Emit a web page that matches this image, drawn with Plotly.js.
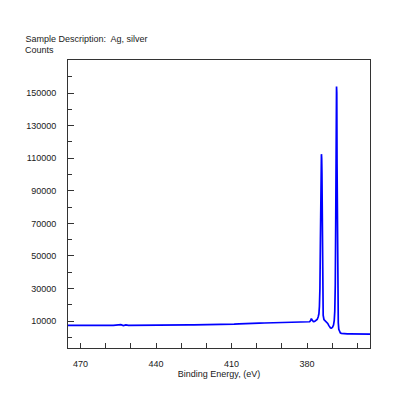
<!DOCTYPE html>
<html>
<head>
<meta charset="utf-8">
<script src="https://cdn.plot.ly/plotly-3.0.1.min.js"></script>
<style>html,body{margin:0;padding:0;background:#fff;}#chart{width:410px;height:400px;}</style>
</head>
<body>
<div id="chart"></div>
<script>
// Binding energy (eV)
const bindingEnergy = [475,473,471,469,467,465,463,461,459,457,455,454,453,452,451,449,447,445,443,441,439,437,435,433,431,429,427,425,423,421,419,417,415,414,413,412,411,409,407,405,403,401,399,397,395,393,391,389,387,385,383,381,380,379,378.6,378.3,378.0,377.5,377.0,376.5,376.0,375.6,375.3,375.1,374.9,374.7,374.5,374.4,374.3,374.2,374.1,374.0,373.9,373.8,373.6,373.3,373.0,372.6,372.2,371.8,371.4,371.0,370.7,370.3,369.9,369.5,369.2,369.0,368.8,368.6,368.5,368.4,368.3,368.2,368.1,368.0,367.9,367.8,367.6,367.4,367.1,366.8,366.4,366.0,365.5,365,364,363,362,361,360,359,358,357,356,355];
// Counts
const counts = [7400,7350,7400,7380,7420,7400,7450,7420,7400,7450,7500,7800,7300,7650,7450,7500,7480,7520,7500,7550,7560,7580,7600,7620,7600,7650,7680,7700,7720,7750,7780,7800,7850,8100,7900,8150,8000,8200,8350,8550,8650,8700,8800,8850,8900,8950,8980,9000,9050,9100,9200,9350,9300,9600,10400,11500,10600,9700,9800,10200,11000,12500,14500,19000,30000,60000,90000,101000,112500,110000,101000,80000,45000,22000,13500,11000,10500,10000,9600,8600,7400,6300,5800,5700,6200,7600,10500,16000,32000,75000,107000,145000,154000,150000,107000,60000,35000,20000,9000,5000,3300,2800,2500,2400,2300,2250,2200,2200,2150,2150,2100,2100,2050,2050,2000,2000];

const xTickVals = [470,440,410,380];
const xMinorVals = [460,450,430,420,400,390,370,360];
const yTickVals = [10000,30000,50000,70000,90000,110000,130000,150000];
const yMinorVals = [0,20000,40000,60000,80000,100000,120000,140000,160000];

const titleText = "Sample Description:\u00a0 Ag, silver";
const yLabel = "Counts";
const xLabel = "Binding Energy, (eV)";

const font = {family: "Liberation Sans, Arial, sans-serif", size: 9, color: "#1a1a1a"};

const trace = {
  x: bindingEnergy, y: counts, type: "scatter", mode: "lines",
  line: {color: "#0000ff", width: 1.7}, hoverinfo: "skip"
};

const layout = {
  width: 410, height: 400,
  margin: {l: 67.5, r: 40, t: 59.5, b: 52},
  paper_bgcolor: "#ffffff", plot_bgcolor: "#ffffff",
  font: font,
  showlegend: false,
  title: {text: titleText, font: font, x: 25.5/410, xanchor: "left", xref: "container",
          y: 1 - 39/400, yanchor: "middle", yref: "container"},
  xaxis: {
    range: [475, 355], autorange: false,
    tickmode: "array", tickvals: xTickVals, ticktext: xTickVals.map(String),
    ticks: "inside", ticklen: 5, tickwidth: 1, tickcolor: "#333",
    minor: {tickmode: "array", tickvals: xMinorVals, ticks: "inside", ticklen: 5, tickwidth: 1, tickcolor: "#333", showgrid: false},
    showline: true, linecolor: "#333", linewidth: 1, mirror: true,
    showgrid: false, zeroline: false,
    ticklabelstandoff: 7,
    tickfont: font,
    title: {text: xLabel, font: font, standoff: 2}
  },
  yaxis: {
    range: [-6500, 170300], autorange: false,
    tickmode: "array", tickvals: yTickVals, ticktext: yTickVals.map(String),
    ticks: "inside", ticklen: 6, tickwidth: 1, tickcolor: "#333",
    minor: {tickmode: "array", tickvals: yMinorVals, ticks: "inside", ticklen: 4, tickwidth: 1, tickcolor: "#333", showgrid: false},
    showline: true, linecolor: "#333", linewidth: 1, mirror: true,
    showgrid: false, zeroline: false,
    ticklabelstandoff: 9,
    tickfont: font
  },
  annotations: [{
    text: yLabel, xref: "paper", yref: "paper",
    x: (25.5 - 67.5) / 302.5, y: (348 - 49.5) / 288.5,
    xanchor: "left", yanchor: "middle", xshift: -3, showarrow: false, font: font
  }]
};

Plotly.newPlot("chart", [trace], layout, {displayModeBar: false, staticPlot: true});
</script>
</body>
</html>
